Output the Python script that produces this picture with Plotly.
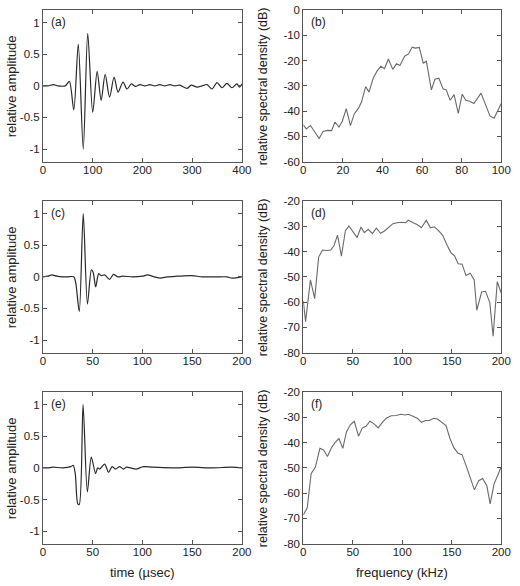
import plotly.graph_objects as go
from plotly.subplots import make_subplots

# time signals (usec, relative amplitude)
t_a = [0, 10, 21, 30, 45, 53, 62, 71, 81, 90, 100, 109, 117, 125, 134, 143, 151, 161, 169, 178,
       186, 195, 205, 215, 225, 235, 245, 255, 265, 275, 290, 298, 310, 320, 330, 340, 350, 360,
       370, 380, 390, 395, 400]
amp_a = [0, 0, 0.02, 0, 0, 0.07, -0.38, 0.66, -1.0, 0.83, -0.42, 0.23, -0.23, 0.18, -0.18, 0.14,
         -0.10, 0.06, -0.05, 0.03, -0.01, 0.02, 0.0, 0.02, 0.0, 0.02, 0.0, 0.02, 0.0, 0.01, -0.04,
         0.01, -0.02, 0.0, 0.02, -0.05, 0.05, -0.03, 0.04, -0.03, 0.03, -0.02, 0.03]

t_c = [0, 5, 9, 14, 20, 25, 31, 33, 36.5, 40.5, 44.7, 48.7, 50.5, 53, 56, 58.5, 62, 67, 71, 75,
       80, 90, 100, 105, 112, 118, 125, 135, 150, 160, 175, 185, 190, 200]
amp_c = [0, 0.01, 0.03, 0.01, 0.0, 0.0, 0.0, -0.1, -0.55, 1.0, -0.43, 0.11, 0.07, -0.16, 0.05,
         0.02, 0.03, -0.04, 0.04, 0.0, 0.01, 0.0, 0.01, 0.03, 0.0, -0.02, 0.0, 0.01, 0.02, 0.0,
         0.0, 0.0, -0.02, 0.0]

t_e = [0, 5, 10, 20, 28, 30.4, 32.5, 35, 36.5, 40.3, 44.6, 48.6, 52.9, 55, 57, 62, 66, 69.5, 73,
       77, 81, 84, 88, 93.5, 101, 110, 130, 150, 170, 190, 200]
amp_e = [0, 0.0, 0.01, 0.0, 0.02, 0.04, -0.1, -0.57, -0.58, 1.0, -0.38, 0.17, -0.09, 0.0, -0.02,
         0.06, -0.07, 0.02, -0.02, 0.02, -0.02, 0.01, 0.0, -0.02, 0.02, 0.01, 0.0, 0.01, 0.0,
         0.01, 0.0]

# spectra (kHz, dB)
f_b = [0, 1.5, 3.6, 8, 10, 12.3, 14.3, 16, 18, 19.7, 21.7, 23.8, 25.8, 28, 29.4, 31.5, 33.2,
       35.3, 37.3, 39.2, 41, 43, 45.2, 47.1, 48.8, 51.2, 53.2, 55, 56.6, 58.6, 60.6, 62.2, 64.7,
       66.5, 68.5, 70.6, 72.2, 74.2, 76.2, 78.3, 80.3, 82.1, 84.1, 86.2, 89.8, 92.3, 94.3, 96.4,
       100]
db_b = [-45.4, -47, -45.7, -50.8, -48, -47.6, -47.7, -44.3, -46.3, -44, -39, -45.7, -41, -38.7,
        -36.4, -30.3, -32.5, -27, -24.1, -22.3, -23.2, -19.4, -23.5, -21.3, -22, -18.3, -17.4,
        -14.7, -15.1, -14.8, -21, -20.3, -31.6, -27.4, -27, -31.2, -31.6, -35.7, -33.5, -40.9,
        -33.3, -35.7, -36.1, -37, -32.9, -38.3, -41.9, -42.8, -37]

f_d = [0, 2.3, 7.2, 11.5, 15.5, 19.4, 23.7, 27.7, 31, 34.6, 38.5, 42.5, 46.1, 50.7, 54.4, 58.3,
       61.6, 65.6, 69.9, 73.8, 78.1, 82, 86.3, 90.6, 94.6, 99.5, 103.5, 106, 111, 115, 119.3,
       124.2, 128.5, 132.5, 136.4, 140.7, 145.6, 148.9, 152.9, 156.5, 160.5, 164.4, 168.7,
       172.7, 175.3, 180.2, 184.2, 188.5, 191.8, 196, 200]
db_d = [-59.6, -67.7, -51.2, -58.6, -42.2, -39.4, -39.6, -39.4, -37.7, -33.5, -41.8, -31.9,
        -29.9, -32.5, -34.5, -30.3, -32.5, -31.2, -32.9, -30.8, -32.8, -31.9, -30.6, -29, -28.6,
        -28.4, -28.6, -27.6, -28.6, -29.3, -30.6, -27.7, -30.6, -30.2, -31.6, -33.5, -37.7,
        -40.3, -41.8, -44.8, -45, -49.5, -48.6, -51.2, -63.2, -56, -55.7, -60.3, -73.5, -51.9,
        -56.4]

f_f = [0, 4, 7.9, 12.2, 16.8, 20.5, 24.4, 28.7, 32.7, 36, 39.9, 43.6, 47.5, 51.5, 55.8, 59.7,
       63.4, 67.3, 71.6, 75.6, 79.9, 83.8, 88.8, 93.7, 98.7, 102.6, 106.3, 110.9, 115.2, 119.5,
       123.4, 127.4, 131.7, 135.6, 139.9, 144.2, 148.2, 152.1, 156.4, 160.4, 164.7, 168.6,
       172.9, 177.2, 181.2, 185.5, 188.8, 192.7, 200]
db_f = [-68.6, -65.8, -52.3, -49.7, -42.3, -42.9, -45.5, -41.9, -39.7, -38.4, -42.3, -35.8, -33,
        -31.6, -37.5, -34.2, -33.6, -31.6, -32.6, -34.2, -32, -30.4, -29.4, -29.3, -28.8, -29.1,
        -28.8, -29.8, -30.4, -32, -31.3, -31.3, -30.4, -30.7, -32, -33.3, -38.4, -42, -44.2,
        -44.8, -49.3, -54.2, -58.7, -55.1, -54.2, -57.1, -64.2, -56.4, -49.7]

panel_labels = ["(a)", "(b)", "(c)", "(d)", "(e)", "(f)"]
amp_ticks = [-1, -0.5, 0, 0.5, 1]
amp_ticktext = ["-1", "-0.5", "0", "0.5", "1"]

W, H = 520, 586
FONT = "Liberation Sans, Arial, sans-serif"
FRAME = "#555555"
TXT = "#222222"

fig = make_subplots(rows=3, cols=2)

signals = [(t_a, amp_a), (t_c, amp_c), (t_e, amp_e)]
spectra = [(f_b, db_b), (f_d, db_d), (f_f, db_f)]
for i, (t, a) in enumerate(signals):
    fig.add_trace(go.Scatter(x=t, y=a, mode="lines",
                             line=dict(color="#2a2a2a", width=1.2, shape="spline", smoothing=0.8),
                             showlegend=False), row=i + 1, col=1)
for i, (f, d) in enumerate(spectra):
    fig.add_trace(go.Scatter(x=f, y=d, mode="lines", line=dict(color="#6a6a6a", width=1.1),
                             showlegend=False), row=i + 1, col=2)

# pixel boxes of the six panels (left, right) and (top, bottom)
left_col = (41, 245)
right_col = (308, 511)
rows_px = [(4, 159), (199, 354), (394, 549)]

axis_common = dict(showline=True, linecolor=FRAME, linewidth=1, mirror="allticks",
                   ticks="inside", ticklen=4, tickcolor=FRAME, showgrid=False, zeroline=False,
                   tickfont=dict(family=FONT, size=11.5, color=TXT))

for r in range(3):
    top, bot = rows_px[r]
    ydom = [1 - bot / H, 1 - top / H]
    for c in range(2):
        idx = r * 2 + c + 1
        xa = "xaxis" if idx == 1 else "xaxis%d" % idx
        ya = "yaxis" if idx == 1 else "yaxis%d" % idx
        cols = left_col if c == 0 else right_col
        xdict = dict(axis_common, domain=[cols[0] / W, cols[1] / W], ticklabelstandoff=-3)
        ydict = dict(axis_common, domain=ydom)
        if c == 0:
            xdict.update(range=[0, 400] if r == 0 else [0, 200], dtick=100 if r == 0 else 50, tick0=0)
            ydict.update(range=[-1.2, 1.2], tickvals=amp_ticks, ticktext=amp_ticktext)
            ytitle, tx, tsize = "relative amplitude", 8.7, 13
        else:
            xdict.update(range=[0, 100] if r == 0 else [0, 200], dtick=20 if r == 0 else 50, tick0=0)
            lo, hi = (-60, 0) if r == 0 else (-80, -20)
            vals = list(range(lo, hi + 1, 10))
            ydict.update(range=[lo, hi], tickvals=vals, ticktext=[str(v) for v in vals])
            ytitle, tx, tsize = "relative spectral density (dB)", 266, 12.5
        fig.layout[xa].update(xdict)
        fig.layout[ya].update(ydict)
        # y axis title
        fig.add_annotation(text=ytitle, xref="paper", yref="paper", x=tx / W,
                           y=1 - (top + bot) / 2 / H, textangle=-90, xanchor="center",
                           yanchor="middle", showarrow=False,
                           font=dict(family=FONT, size=tsize, color=TXT))
        # panel label
        fig.add_annotation(text=panel_labels[idx - 1], xref="paper", yref="paper",
                           x=(cols[0] + 6) / W, y=1 - (top + 12) / H, xanchor="left",
                           yanchor="middle", showarrow=False,
                           font=dict(family=FONT, size=12, color=TXT))
        if r == 2:
            fig.add_annotation(text="time (\u00b5sec)" if c == 0 else "frequency (kHz)",
                               xref="paper", yref="paper", x=(cols[0] + cols[1]) / 2 / W,
                               y=1 - 578 / H, xanchor="center", yanchor="middle",
                               showarrow=False, font=dict(family=FONT, size=13, color=TXT))

fig.update_layout(width=W, height=H, margin=dict(l=0, r=0, t=0, b=0),
                  plot_bgcolor="white", paper_bgcolor="white")

fig.write_html("out.html", config={"displayModeBar": False},
               post_script="document.body.style.margin='0';document.body.style.overflow='hidden';")
